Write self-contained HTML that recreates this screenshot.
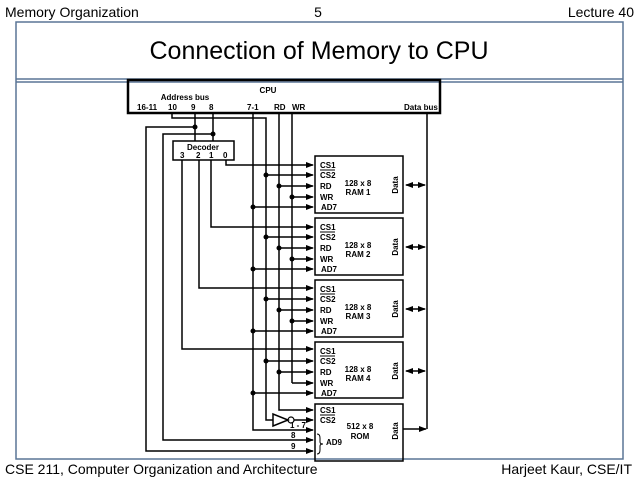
<!DOCTYPE html>
<html><head><meta charset="utf-8"><style>
html,body{margin:0;padding:0;background:#fff;width:638px;height:479px;overflow:hidden}
svg{display:block;font-family:"Liberation Sans",sans-serif}
</style></head><body>
<svg width="638" height="479" viewBox="0 0 638 479" xmlns="http://www.w3.org/2000/svg">
<defs>
<marker id="a" markerWidth="8" markerHeight="6" refX="7" refY="3" orient="auto" markerUnits="userSpaceOnUse"><path d="M0,0 L8,3 L0,6 Z" fill="#000"/></marker>
<marker id="b" markerWidth="8" markerHeight="6" refX="1" refY="3" orient="auto" markerUnits="userSpaceOnUse"><path d="M8,0 L0,3 L8,6 Z" fill="#000"/></marker>
</defs>
<text x="5" y="17" font-size="14">Memory Organization</text>
<text x="318" y="17" font-size="14" text-anchor="middle">5</text>
<text x="634" y="17" font-size="14" text-anchor="end">Lecture 40</text>
<rect x="16" y="22" width="607" height="437" fill="none" stroke="#5a7596" stroke-width="1.5"/>
<line x1="16" y1="79" x2="623" y2="79" stroke="#5a7596" stroke-width="1.5"/>
<line x1="16" y1="82" x2="623" y2="82" stroke="#5a7596" stroke-width="1.5"/>
<text x="319" y="59" font-size="25" text-anchor="middle">Connection of Memory to CPU</text>
<text x="5" y="474" font-size="14">CSE 211, Computer Organization and Architecture</text>
<text x="632" y="474" font-size="14" text-anchor="end">Harjeet Kaur, CSE/IT</text>

<g stroke="#000" stroke-width="1.5" fill="none">
<rect x="128" y="80" width="312" height="33" stroke-width="2.5"/>
<rect x="173" y="141" width="61" height="19"/>
<rect x="315" y="156" width="88" height="57"/>
<rect x="315" y="218" width="88" height="57"/>
<rect x="315" y="280" width="88" height="57"/>
<rect x="315" y="342" width="88" height="56"/>
<rect x="315" y="404" width="88" height="57"/>
<polyline points="172,113 172,118 266,118 266,420 273,420"/>
<line x1="195" y1="113" x2="195" y2="141"/>
<polyline points="195,127 146,127 146,451 313,451" marker-end="url(#a)"/>
<line x1="213" y1="113" x2="213" y2="141"/>
<polyline points="213,134 163,134 163,440 313,440" marker-end="url(#a)"/>
<polyline points="253,113 253,430 313,430" marker-end="url(#a)"/>
<polyline points="279,113 279,410 313,410" marker-end="url(#a)"/>
<line x1="292" y1="113" x2="292" y2="383"/>
<line x1="427" y1="113" x2="427" y2="429"/>
<polyline points="226,160 226,165 313,165" marker-end="url(#a)"/>
<polyline points="211,160 211,227 313,227" marker-end="url(#a)"/>
<polyline points="199,160 199,288 313,288" marker-end="url(#a)"/>
<polyline points="182,160 182,349 313,349" marker-end="url(#a)"/>
<polygon points="273,414 273,426 288,420"/>
<circle cx="291" cy="420" r="3" stroke-width="1.2"/>
<line x1="294" y1="420" x2="313" y2="420" marker-end="url(#a)"/>
<line x1="403" y1="429" x2="426" y2="429" marker-end="url(#a)"/>
<path d="M317,434 q3,0 3,4 v4 q0,2 3,2 q-3,0 -3,2 v4 q0,4 -3,4" stroke-width="1"/>
</g>
<g stroke="#000" stroke-width="1.5" fill="none">
<g id="r1">
<line x1="266" y1="175" x2="313" y2="175" marker-end="url(#a)"/>
<line x1="279" y1="186" x2="313" y2="186" marker-end="url(#a)"/>
<line x1="292" y1="197" x2="313" y2="197" marker-end="url(#a)"/>
<line x1="253" y1="207" x2="313" y2="207" marker-end="url(#a)"/>
<line x1="406" y1="185" x2="425" y2="185" marker-end="url(#a)" marker-start="url(#b)"/>
</g>
<use href="#r1" y="62"/>
<use href="#r1" y="124"/>
<use href="#r1" y="186"/>
</g>
<g fill="#000">
<circle cx="195" cy="127" r="2.5"/><circle cx="213" cy="134" r="2.5"/>
<g id="d1"><circle cx="266" cy="175" r="2.5"/><circle cx="279" cy="186" r="2.5"/><circle cx="292" cy="197" r="2.5"/><circle cx="253" cy="207" r="2.5"/></g>
<use href="#d1" y="62"/><use href="#d1" y="124"/>
<circle cx="266" cy="361" r="2.5"/><circle cx="279" cy="372" r="2.5"/><circle cx="253" cy="393" r="2.5"/>
</g>
<g font-size="8" font-weight="bold" fill="#000">
<text x="268" y="93" text-anchor="middle">CPU</text>
<text x="185" y="100" text-anchor="middle">Address bus</text>
<text x="137" y="110">16-11</text><text x="168" y="110">10</text><text x="191" y="110">9</text><text x="209" y="110">8</text>
<text x="247" y="110">7-1</text><text x="274" y="110">RD</text><text x="292" y="110">WR</text><text x="404" y="110">Data bus</text>
<text x="203" y="150" text-anchor="middle">Decoder</text>
<text x="180" y="158">3</text><text x="196" y="158">2</text><text x="209" y="158">1</text><text x="223" y="158">0</text>
<g id="t1">
<text x="320" y="168">CS1</text><text x="320" y="178">CS2</text><text x="320" y="189">RD</text><text x="320" y="200">WR</text><text x="321" y="210">AD7</text>
<line x1="320" y1="170" x2="335" y2="170" stroke="#000" stroke-width="1"/>
<text x="358" y="186" text-anchor="middle">128 x 8</text>
<text transform="translate(398,185) rotate(-90)" text-anchor="middle">Data</text>
</g>
<text x="358" y="195" text-anchor="middle">RAM  1</text>
<use href="#t1" y="62"/><text x="358" y="257" text-anchor="middle">RAM  2</text>
<use href="#t1" y="124"/><text x="358" y="319" text-anchor="middle">RAM  3</text>
<use href="#t1" y="186"/><text x="358" y="381" text-anchor="middle">RAM  4</text>
<text x="320" y="413">CS1</text><text x="320" y="423">CS2</text>
<line x1="320" y1="415" x2="335" y2="415" stroke="#000" stroke-width="1"/>
<text x="360" y="429" text-anchor="middle">512 x 8</text><text x="360" y="439" text-anchor="middle">ROM</text>
<text transform="translate(398,431) rotate(-90)" text-anchor="middle">Data</text>
<text x="290" y="428">1 - 7</text><text x="291" y="438">8</text><text x="291" y="449">9</text>
<text x="326" y="445">AD9</text>
</g>
</svg>
</body></html>
